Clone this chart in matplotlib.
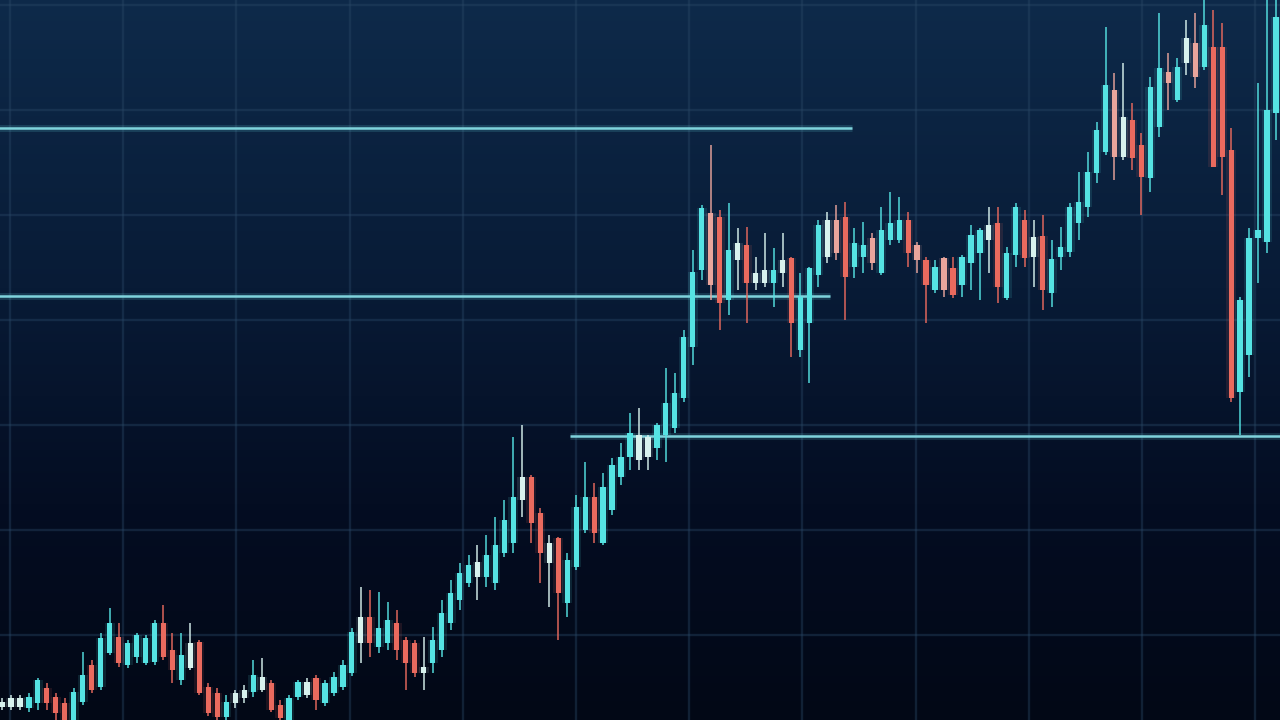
import numpy as np
import matplotlib
matplotlib.use("Agg")
import matplotlib.pyplot as plt
from matplotlib.colors import LinearSegmentedColormap

# ---- candle data (price units) ----
opens = [13, 13, 13, 12, 17, 32, 23, 17, 0, 18, 55, 33, 67, 83, 55, 63, 57, 58, 97, 70,
         40, 52, 78, 33, 27, 3, 17, 22, 28, 30, 37, 15, 0, 23, 25, 42, 17, 27, 33, 47,
         77, 103, 73, 77, 97, 80, 77, 47, 57, 70, 97, 120, 137, 143, 143, 137, 167, 177, 220, 243,
         207, 157, 182, 117, 153, 190, 223, 177, 210, 243, 263, 260, 263, 272, 285, 292, 322, 373, 450, 507,
         503, 420, 460, 475, 437, 437, 437, 447, 462, 370, 397, 445, 463, 500, 503, 453, 463, 482, 447, 480,
         480, 500, 475, 460, 430, 462, 452, 435, 457, 467, 480, 497, 422, 465, 500, 463, 484, 427, 463, 468,
         497, 513, 547, 568, 630, 563, 600, 575, 542, 593, 648, 620, 657, 677, 653, 673, 673, 570, 328, 365,
         482, 478, 607]
closes = [18, 22, 22, 23, 40, 17, 7, 0, 28, 45, 30, 82, 97, 57, 77, 85, 82, 97, 63, 50,
          65, 77, 27, 7, 3, 18, 27, 30, 45, 43, 10, 2, 22, 38, 38, 20, 37, 43, 55, 88,
          103, 77, 92, 100, 70, 57, 47, 53, 80, 107, 127, 147, 155, 158, 165, 175, 200, 223, 243, 197,
          167, 177, 127, 160, 213, 223, 187, 233, 255, 263, 287, 285, 283, 295, 317, 327, 383, 448, 512, 435,
          417, 470, 477, 437, 447, 450, 450, 460, 397, 423, 452, 495, 500, 467, 443, 477, 475, 457, 490, 497,
          500, 467, 460, 435, 453, 430, 425, 463, 485, 490, 495, 433, 467, 513, 462, 483, 430, 461, 473, 513,
          518, 548, 590, 635, 563, 603, 562, 543, 633, 652, 637, 653, 682, 643, 695, 553, 563, 322, 420, 482,
          490, 610, 703]
highs = [22, 25, 25, 27, 42, 37, 27, 22, 32, 68, 60, 87, 112, 97, 80, 87, 85, 100, 115, 87,
         87, 97, 80, 37, 32, 25, 30, 35, 60, 62, 40, 20, 25, 40, 42, 45, 40, 48, 60, 92,
         133, 130, 128, 118, 110, 83, 80, 83, 93, 120, 140, 157, 165, 175, 185, 203, 220, 283, 295, 245,
         212, 185, 183, 167, 225, 258, 237, 247, 262, 277, 307, 312, 285, 297, 352, 347, 390, 470, 515, 575,
         510, 517, 492, 493, 463, 487, 472, 487, 463, 447, 453, 500, 508, 515, 518, 492, 498, 487, 513, 528,
         523, 508, 478, 463, 460, 463, 463, 465, 495, 492, 513, 513, 473, 517, 510, 500, 505, 480, 493, 517,
         548, 568, 598, 693, 647, 657, 617, 587, 643, 707, 667, 662, 700, 707, 720, 710, 697, 592, 423, 492,
         637, 720, 720]
lows = [10, 10, 10, 8, 10, 10, 0, -2, -2, 15, 27, 30, 65, 53, 52, 57, 55, 55, 60, 37,
        35, 50, 25, 4, 0, 0, 12, 17, 23, 28, 8, 0, -2, 20, 22, 10, 14, 24, 30, 44,
        57, 63, 67, 70, 60, 30, 43, 30, 47, 63, 90, 110, 133, 120, 133, 130, 163, 167, 203, 177,
        137, 113, 80, 103, 150, 187, 177, 175, 205, 235, 250, 250, 250, 260, 258, 287, 318, 355, 440, 420,
        390, 405, 430, 397, 430, 433, 413, 433, 363, 363, 337, 433, 457, 460, 400, 442, 447, 450, 445, 475,
        477, 453, 447, 397, 427, 423, 422, 423, 430, 420, 447, 417, 420, 453, 453, 433, 410, 413, 450, 463,
        480, 503, 537, 565, 540, 560, 550, 505, 528, 583, 610, 618, 645, 632, 650, 553, 525, 318, 285, 343,
        437, 467, 580]
# candles that look pale / pinkish in the picture (1-based candle numbers)
pale_candles = [1, 2, 3, 22, 27, 28, 30, 35, 41, 48, 54, 59, 62, 72, 73, 83, 85, 86, 88,
                93, 111, 116, 126, 133]
pink_candles = [80, 94, 98, 103, 106, 125, 131, 134]

# support / resistance levels: (value, first candle, last candle)
level_vals = [592, 424, 284]
level_from = [-1, -1, 63.3]
level_to = [94.7, 92.3, 143]

n = len(opens)
W, H = 1280, 720
fig = plt.figure(figsize=(12.8, 7.2), dpi=100)
ax = fig.add_axes([0, 0, 1, 1])
xmin, xmax = -0.223, 142.45
ax.set_xlim(xmin, xmax)
ax.set_ylim(0, 720)
ax.axis("off")

# background gradient
cmap = LinearSegmentedColormap.from_list(
    "bg", [(0.0, "#020816"), (0.3, "#040d22"), (0.6, "#081b36"), (1.0, "#0e2a4a")])
grad = np.linspace(0, 1, 256).reshape(-1, 1)
ax.imshow(grad, extent=[xmin, xmax, 0, 720], origin="lower", aspect="auto",
          cmap=cmap, zorder=0, interpolation="bicubic")

# grid
for k in range(12):
    px = 10 + 113.2 * k
    xg = xmin + px / W * (xmax - xmin)
    ax.axvline(xg, color="#2a4866", alpha=0.4, lw=1.7, zorder=1)
for yv in np.arange(85, 720, 105):
    ax.axhline(yv, color="#2a4866", alpha=0.4, lw=1.7, zorder=1)

# levels
for v, a, b in zip(level_vals, level_from, level_to):
    ax.hlines(v, a, b, color="#5fc4d0", lw=5, alpha=0.18, zorder=2)
    ax.hlines(v, a, b, color="#7fd3dc", lw=1.8, zorder=2)

UP, DOWN, PALE, PINK = "#55e3e3", "#ea6a5e", "#d8f2ee", "#eaa59c"
x = np.arange(n)
o = np.array(opens, float); c = np.array(closes, float)
h = np.array(highs, float); l = np.array(lows, float)
cols = [UP if c[i] >= o[i] else DOWN for i in range(n)]
for k in pale_candles:
    cols[k - 1] = PALE
for k in pink_candles:
    cols[k - 1] = PINK
bot = np.minimum(o, c)
hei = np.maximum(np.abs(c - o), 2)

# glow
ax.bar(x, hei, bottom=bot, width=1.1, color=cols, alpha=0.12, zorder=3, linewidth=0)
ax.vlines(x, l, h, colors=cols, lw=1.3, alpha=0.8, zorder=4)
ax.bar(x, hei, bottom=bot, width=0.58, color=cols, zorder=5, linewidth=0)

fig.savefig("out.png", dpi=100, facecolor="#020816")
